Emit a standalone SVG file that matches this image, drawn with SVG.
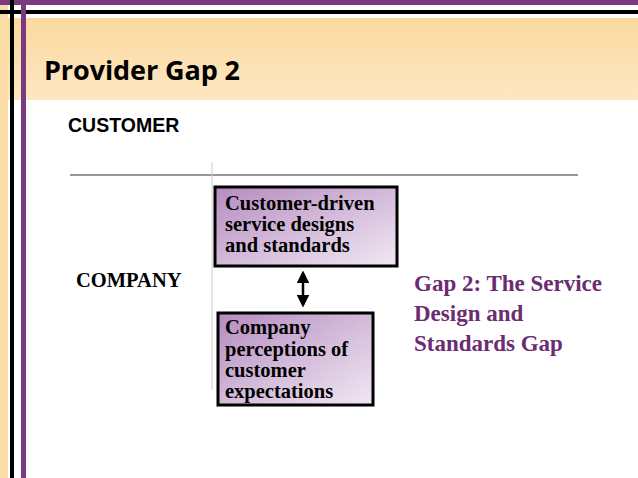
<svg xmlns="http://www.w3.org/2000/svg" width="638" height="478" viewBox="0 0 638 478">
<defs>
<linearGradient id="hdr" x1="0" y1="0" x2="0" y2="1"><stop offset="0" stop-color="#fbd9a0"/><stop offset="1" stop-color="#fde7c2"/></linearGradient>
<linearGradient id="box" x1="0" y1="0" x2="1" y2="1"><stop offset="0" stop-color="#b58cc0"/><stop offset="1" stop-color="#f1e8f3"/></linearGradient>
<marker id="ah" viewBox="0 0 10 10" refX="8" refY="5" markerWidth="5" markerHeight="5" orient="auto-start-reverse"><path d="M0,0L10,5L0,10z" fill="#000"/></marker>
</defs>
<style>
.b{stroke:#000;stroke-width:3;fill:url(#box)}
.t{font-family:"Liberation Serif",serif;font-weight:bold;font-size:20.5px;fill:#000}
</style>
<rect width="638" height="478" fill="#fff"/>
<rect x="0" y="0" width="8" height="478" fill="#fbdca6"/>
<rect x="8" y="18" width="630" height="82" fill="url(#hdr)"/>
<rect x="0" y="0" width="638" height="5" fill="#7b3a7e"/>
<rect x="0" y="10" width="638" height="4" fill="#000"/>
<rect x="10" y="0" width="4" height="478" fill="#000"/>
<rect x="21" y="0" width="5" height="478" fill="#7b3a7e"/>
<text x="44" y="80" font-family="Open Sans,sans-serif" font-weight="bold" font-size="27" fill="#000" textLength="196">Provider Gap 2</text>
<text x="68" y="132" font-family="Liberation Sans,sans-serif" font-weight="bold" font-size="19.5" fill="#000">CUSTOMER</text>
<line x1="70" y1="175" x2="578" y2="175" stroke="#333" stroke-width="1"/>
<line x1="212" y1="162" x2="212" y2="390" stroke="#ccc" stroke-width="1"/>
<text x="76" y="287" font-family="Liberation Serif,serif" font-weight="bold" font-size="20.5" fill="#000">COMPANY</text>
<g id="connectors"><line x1="303" y1="273" x2="303" y2="305" stroke="#000" stroke-width="2.5" marker-start="url(#ah)" marker-end="url(#ah)"/></g>
<g id="n1"><rect class="b" x="215" y="187" width="182" height="79"/>
<text class="t" x="225" y="210">Customer-driven</text><text class="t" x="225" y="231">service designs</text><text class="t" x="225" y="252">and standards</text></g>
<g id="n2"><rect class="b" x="218" y="313" width="155" height="92"/>
<text class="t" x="225" y="334">Company</text><text class="t" x="225" y="356">perceptions of</text><text class="t" x="225" y="377">customer</text><text class="t" x="225" y="398">expectations</text></g>
<g id="gap" font-family="Liberation Serif,serif" font-weight="bold" font-size="23" fill="#6b2c72">
<text x="414" y="291">Gap 2: The Service</text><text x="414" y="321">Design and</text><text x="414" y="351">Standards Gap</text></g>
</svg>
